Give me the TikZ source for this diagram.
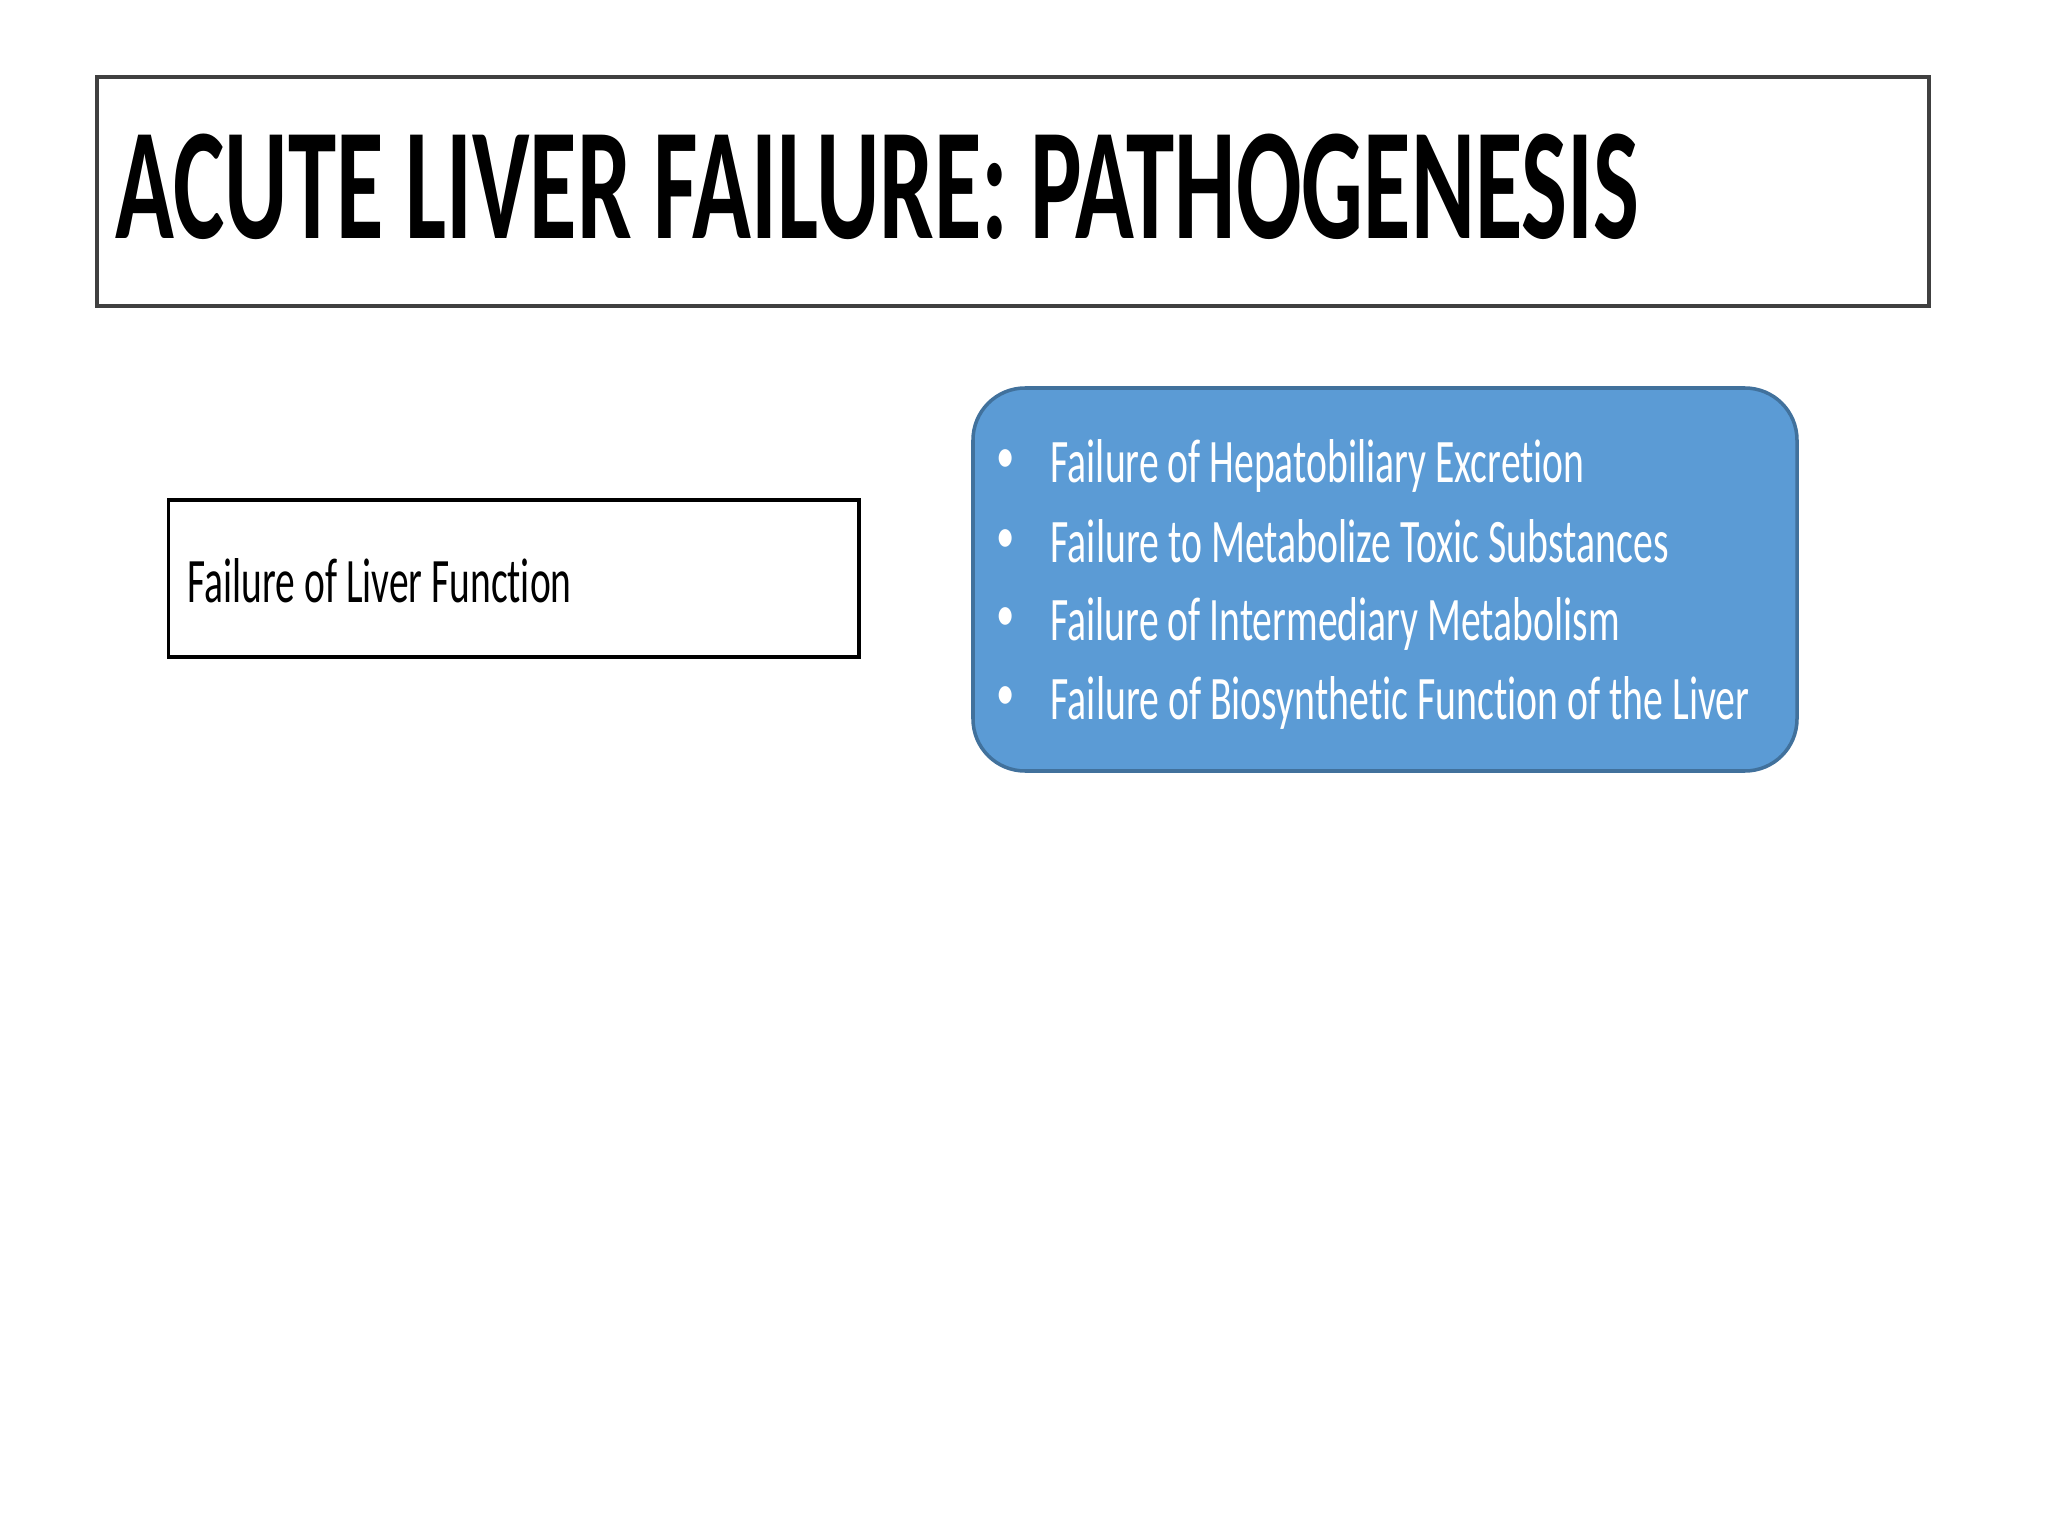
\documentclass[tikz,border=0pt]{standalone}
\usepackage{fontspec}
\setmainfont[Ligatures=NoCommon]{Carlito}
\usetikzlibrary{positioning}
\definecolor{slideblue}{RGB}{91,155,213}
\definecolor{slideedge}{RGB}{65,113,156}
\definecolor{titleedge}{RGB}{64,64,64}
\tikzset{
	framebox/.style={draw=black,line width=1pt,fill=white},
	bulletbox/.style={draw=slideedge,line width=1pt,fill=slideblue,rounded corners=0.52cm},
	linetext/.style={anchor=base west,inner sep=0pt,text=white},
}
\begin{document}
\begin{tikzpicture}
	\useasboundingbox[fill=white] (0,0) rectangle (20.48,-15.36);
	% titel
	\draw[framebox,draw=titleedge] (0.97,-0.77) rectangle (19.29,-3.06);
	\node[anchor=base west,inner sep=0pt] (title) at (1.15,-2.39) {\resizebox{15.23cm}{1.045cm}{\bfseries ACUTE LIVER FAILURE: PATHOGENESIS}};
	% links
	\draw[framebox] (1.685,-5.00) rectangle (8.59,-6.57);
	\node[anchor=base west,inner sep=0pt] (liver) at (1.87,-6.02) {\resizebox{3.84cm}{0.44cm}{Failure of Liver Function}};
	% rechts
	\draw[bulletbox] (9.73,-3.88) rectangle (17.97,-7.71);
	\foreach \i/\y/\w/\t in {1/4.83/5.34/Failure of Hepatobiliary Excretion,
		2/5.63/6.18/Failure to Metabolize Toxic Substances,
		3/6.41/5.69/Failure of Intermediary Metabolism,
		4/7.20/6.99/Failure of Biosynthetic Function of the Liver}
	{
	\node[linetext] (l\i) at (10.50,-\y) {\resizebox{\w cm}{0.43cm}{\t}};
	\node[text=white,inner sep=0pt] (b\i) at (10.06,-\y+0.22) {\scalebox{0.55}[0.75]{\fontsize{19}{19}\selectfont\textbullet}};
	}
\end{tikzpicture}
\end{document}
